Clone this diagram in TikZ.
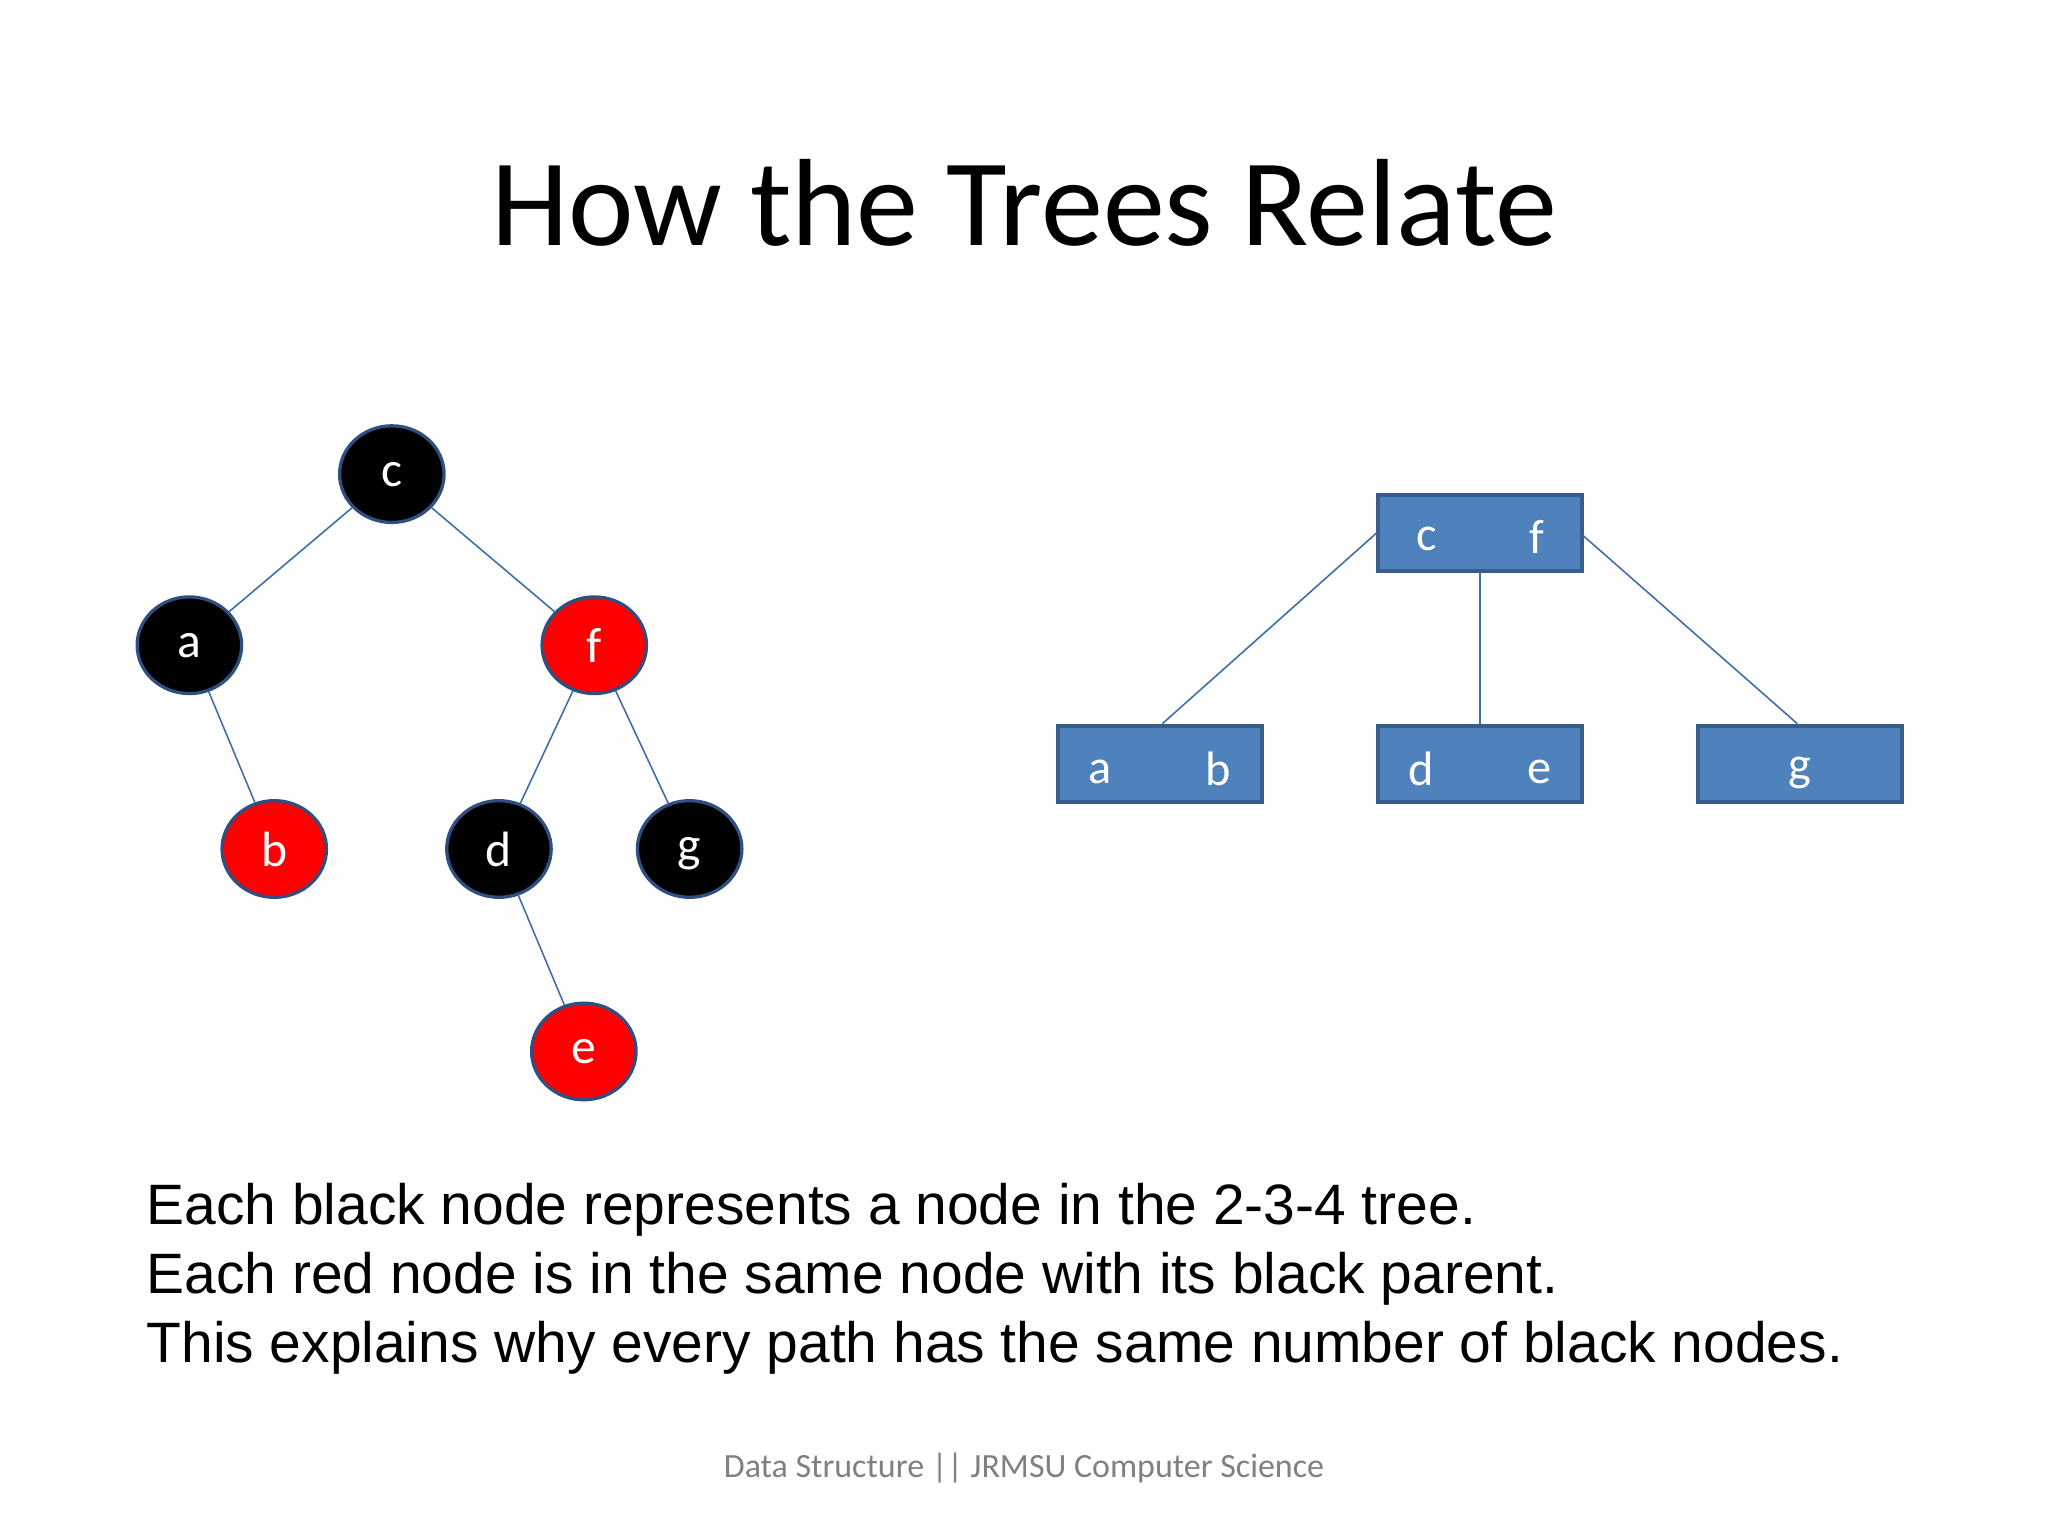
\documentclass[tikz,border=0pt]{standalone}
\usepackage{fontspec}
\setmainfont{Carlito}
\newfontfamily\arialf{Liberation Sans}
\usetikzlibrary{shapes.geometric}
\definecolor{bord}{HTML}{2F4F80}
\definecolor{edge}{HTML}{3E6DA8}
\definecolor{boxfill}{HTML}{4F81BD}
\definecolor{boxbord}{HTML}{385D8A}
\begin{document}
\begin{tikzpicture}[x=1pt,y=-1pt,
 rb/.style={ellipse,minimum width=80pt,minimum height=74pt,draw=bord,line width=2.5pt,text=white,font=\fontsize{38}{40}\selectfont,inner sep=0pt,text depth=-6pt},
 blk/.style={rb,fill=black},
 red/.style={rb,fill=red},
 box/.style={rectangle,minimum width=156pt,minimum height=58pt,draw=boxbord,line width=3pt,fill=boxfill,inner sep=0pt},
 lab/.style={text=white,font=\fontsize{37}{40}\selectfont,inner sep=0pt},
 ed/.style={draw=edge,line width=1.2pt}]
\useasboundingbox (0,0) rectangle (1568,1176);
\node[font=\fontsize{95}{105}\selectfont] (title) at (784,155) {How the Trees Relate};
\node[blk] (c) at (300,363) {c};
\node[blk] (a) at (145,494) {a};
\node[red] (f) at (455,494) {f};
\node[red] (b) at (210,650) {b};
\node[blk] (d) at (382,650) {d};
\node[blk] (g) at (528,650) {g};
\node[red] (e) at (447,805) {e};
\draw[ed] (c) -- (a); \draw[ed] (c) -- (f); \draw[ed] (a) -- (b);
\draw[ed] (f) -- (d); \draw[ed] (f) -- (g); \draw[ed] (d) -- (e);
\node[box] (cf) at (1133,408) {};
\node[box] (ab) at (888,585) {};
\node[box] (de) at (1133,585) {};
\node[box] (gb) at (1378,585) {};
\node[lab] (lc) at (1092,413) {c}; \node[lab] (lf) at (1177,411) {f};
\node[lab] (la) at (842,591) {a}; \node[lab] (lb) at (933,589) {b};
\node[lab] (ld) at (1088,589) {d}; \node[lab] (le) at (1179,591) {e};
\node[lab] (lg) at (1378,592) {g};
\coordinate (p1) at (1054,408); \coordinate (p2) at (1133,438); \coordinate (p3) at (1212,410);
\coordinate (q1) at (890,554); \coordinate (q2) at (1133,554); \coordinate (q3) at (1376,554);
\draw[ed] (p1) -- (q1); \draw[ed] (p2) -- (q2); \draw[ed] (p3) -- (q3);
\node[anchor=north west,align=left,font=\arialf\fontsize{43.6}{52.5}\selectfont,inner sep=0pt] (txt) at (112,906)
 {Each black node represents a node in the 2-3-4 tree.\\Each red node is in the same node with its black parent.\\This explains why every path has the same number of black nodes.};
\node[text=gray,font=\fontsize{26}{30}\selectfont] (foot) at (784,1124) {Data Structure || JRMSU Computer Science};
\end{tikzpicture}
\end{document}
